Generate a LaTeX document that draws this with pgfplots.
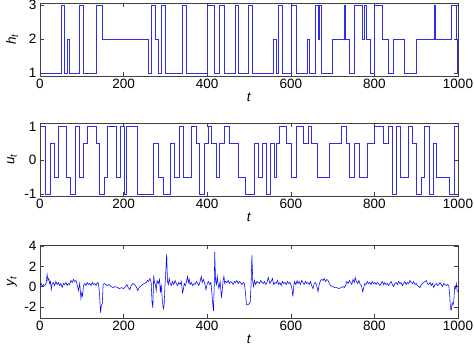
\documentclass[border=0pt]{standalone}
\usepackage{pgfplots}
\pgfplotsset{compat=1.18}
\usepackage{fontspec}
\setmainfont{Liberation Sans}
\definecolor{lineblue}{RGB}{45,45,235}
\pgfplotsset{
  panel/.style={
    scale only axis, width=418pt, height=73pt,
    xmin=0, xmax=1000, xtick={0,200,...,1000},
    tick align=inside, major tick length=4pt,
    axis line style={black!75, line width=0.5pt},
    every tick/.style={black!75, line width=0.5pt},
    ticklabel style={font=\fontsize{13.5}{15}\selectfont},
    /pgf/number format/assume math mode=true,
    /pgf/number format/1000 sep={},
    scaled ticks=false,
    xlabel={\textit{t}},
    every axis x label/.style={at={(axis description cs:0.5,-0.29)}, anchor=center, font=\fontsize{13.5}{15}\selectfont},
    every axis y label/.style={at={(axis description cs:-0.067,0.5)}, anchor=center, rotate=90, font=\fontsize{13.5}{15}\selectfont},
    clip=true,
  },
  every axis plot/.append style={lineblue, line width=0.55pt, no marks},
}
\begin{document}
\begin{tikzpicture}
\begin{axis}[panel, at={(0,275pt)}, anchor=south west,
  ymin=0.92, ymax=3.06, ytick={1,2,3}, ylabel={\textit{h}\textsubscript{\textit{t}}}]
\addplot[const plot] coordinates {
(0,1) (51,3) (59,1) (65,2) (70,1) (93,3) (103,1) (135,3) (149,2) (258,1) (266,3) (276,2) (282,1) (291,3) (300,1) (340,3) (350,1) (399,3) (416,1) (429,3) (442,1) (468,3) (475,1) (499,3) (509,1) (557,2) (565,1) (571,3) (579,1) (602,3) (614,1) (639,2) (644,1) (659,3) (665,2) (669,3) (673,1) (699,2) (728,3) (730,2) (741,1) (753,3) (770,2) (776,3) (781,2) (789,1) (800,3) (820,2) (832,1) (844,2) (872,1) (900,2) (944,3) (945,2) (984,3) (996,2) (999,1) (1000,1)
};
\end{axis}
\begin{axis}[panel, at={(0,155pt)}, anchor=south west,
  ymin=-1.06, ymax=1.1, ytick={-1,0,1}, ylabel={\textit{u}\textsubscript{\textit{t}}}]
\addplot[const plot] coordinates {
(0,1) (12,-1) (24,0.5) (33,-0.5) (44,1) (62,-0.5) (72,-1) (84,1) (94,-0.5) (104,0.5) (113,1) (134,0.5) (143,-1) (153,-0.5) (161,1) (183,-0.5) (191,1) (201,-1) (207,1) (232,-1) (272,0.5) (283,-0.5) (295,-1) (312,0.5) (322,-0.5) (332,1) (342,-0.5) (362,1) (373,0.5) (382,-1) (392,0.5) (402,1) (410,0.5) (421,-0.5) (430,0.5) (442,1) (452,0.5) (474,-0.5) (490,-1) (512,0.5) (522,-0.5) (532,0.5) (542,-1) (552,0.5) (560,-0.5) (566,0.5) (572,1) (589,0.5) (601,-0.5) (612,1) (629,0.5) (641,1) (649,0.5) (663,-0.5) (691,0.5) (721,1) (733,0.5) (741,-0.5) (753,0.5) (763,-0.5) (782,0.5) (800,1) (822,0.5) (832,1) (843,-1) (852,1) (863,-0.5) (880,1) (890,0.5) (900,-1) (912,-0.5) (920,1) (932,-1) (940,0.5) (949,-0.5) (980,-1) (992,1) (1000,1)
};
\end{axis}
\begin{axis}[panel, at={(0,33pt)}, anchor=south west,
  ymin=-3.1, ymax=4.1, ytick={-2,0,2,4}, ylabel={\textit{y}\textsubscript{\textit{t}}}]
\addplot coordinates {
(0,0.1) (3,0.3) (6,0.0) (9,0.2) (12,0.1) (15,0.4) (17,1.2) (19,0.6) (21,0.8) (23,0.3) (25,0.5) (27,-0.3) (29,0.2) (32,0.4) (35,0.1) (38,0.5) (41,0.2) (44,0.4) (47,0.1) (50,0.3) (53,-0.1) (56,0.3) (59,0.2) (62,0.4) (65,0.1) (68,0.3) (71,0.2) (74,0.6) (77,0.4) (80,0.7) (83,0.5) (86,0.6) (89,0.2) (92,-0.4) (95,0.3) (98,-1.2) (100,-0.6) (102,-0.9) (104,0.1) (107,0.3) (110,0.1) (113,0.4) (116,0.2) (119,0.3) (122,0.1) (125,0.4) (128,0.2) (131,0.3) (134,0.1) (137,0.4) (140,0.3) (142,-0.5) (145,-2.6) (147,-1.8) (149,-1.7) (151,0.2) (154,0.3) (157,0.2) (160,0.1) (165,0.2) (170,0.0) (175,-0.1) (180,0.0) (185,-0.1) (190,-0.2) (195,-0.1) (200,-0.2) (205,0.0) (208,0.2) (211,-0.1) (215,-0.3) (218,0.1) (222,0.3) (226,0.2) (230,0.0) (234,-0.4) (237,-0.1) (240,0.0) (245,0.2) (250,0.3) (254,0.4) (257,0.6) (260,0.5) (263,0.8) (266,0.4) (268,-1.5) (270,-2.1) (272,1.1) (274,0.4) (276,0.2) (278,-0.4) (280,0.6) (283,0.3) (286,0.7) (288,-0.6) (290,0.2) (293,-1.5) (295,-2.2) (297,-1.8) (299,0.1) (301,1.5) (303,3.2) (305,0.5) (307,0.2) (309,0.8) (311,0.4) (314,0.1) (317,0.5) (320,0.2) (323,0.6) (326,0.3) (329,0.1) (332,0.4) (335,0.2) (338,0.5) (341,-0.6) (343,-0.3) (345,0.3) (348,0.1) (351,0.6) (353,1.0) (355,0.4) (357,0.7) (359,0.2) (362,0.4) (365,0.1) (368,0.3) (371,0.2) (374,0.5) (377,0.3) (380,0.1) (383,0.5) (386,1.0) (388,0.4) (391,0.7) (394,0.3) (397,-0.3) (400,0.3) (403,0.5) (406,0.2) (409,0.4) (411,-0.5) (413,-1.6) (415,-2.4) (417,0.3) (418,3.4) (420,0.6) (422,0.2) (424,1.0) (426,0.3) (428,-0.2) (431,0.5) (434,-1.0) (436,-0.4) (438,0.6) (440,1.0) (442,0.3) (444,0.5) (447,0.4) (450,0.6) (453,0.3) (456,0.5) (459,0.4) (462,0.2) (465,0.5) (468,0.4) (471,0.6) (474,0.3) (477,0.5) (480,0.4) (483,0.2) (486,0.4) (489,0.3) (492,-0.8) (494,-1.8) (497,-1.8) (500,-1.7) (503,-1.5) (505,0.2) (507,3.1) (509,0.5) (511,0.0) (513,0.6) (516,0.2) (519,0.5) (522,0.4) (525,0.3) (528,0.6) (531,0.4) (534,0.3) (537,0.5) (540,0.2) (543,0.4) (546,0.9) (548,0.6) (550,0.3) (553,0.5) (556,0.8) (559,0.2) (562,0.4) (565,0.3) (568,0.6) (571,0.2) (574,0.4) (577,0.1) (580,0.5) (583,0.3) (586,0.4) (589,0.2) (592,0.5) (595,0.3) (598,0.4) (601,0.1) (603,-0.3) (605,-1.0) (607,0.0) (609,0.5) (612,0.2) (615,0.6) (617,0.3) (620,0.5) (623,0.2) (626,0.6) (629,0.4) (632,0.2) (635,0.5) (638,0.3) (641,0.4) (644,0.2) (647,0.5) (650,0.1) (653,-0.2) (656,0.3) (659,0.4) (662,0.1) (665,-0.5) (668,0.2) (671,0.6) (674,0.7) (677,0.6) (680,0.8) (683,0.5) (686,0.7) (689,0.6) (692,0.3) (695,0.1) (700,0.0) (705,-0.1) (710,-0.1) (715,-0.2) (720,-0.1) (725,0.0) (728,-0.1) (731,0.1) (734,0.5) (737,0.3) (740,0.6) (743,0.4) (746,0.2) (749,0.7) (752,0.4) (754,0.9) (757,0.5) (760,0.3) (763,0.6) (766,0.2) (769,0.1) (772,-0.5) (774,-0.2) (777,0.3) (780,0.2) (783,0.5) (786,0.3) (789,0.4) (792,0.2) (795,0.5) (798,0.3) (801,0.4) (804,0.2) (807,0.4) (810,0.3) (813,0.1) (816,0.3) (819,0.5) (822,0.2) (825,0.4) (828,0.2) (831,0.3) (834,0.1) (837,0.3) (840,0.5) (843,0.2) (846,0.0) (849,0.3) (852,0.4) (855,0.2) (858,0.5) (861,0.3) (864,0.4) (867,0.1) (870,0.3) (873,0.5) (876,0.2) (879,0.4) (882,0.3) (885,0.6) (888,0.4) (891,0.3) (894,0.5) (897,0.2) (900,0.3) (903,0.1) (906,0.0) (909,-0.1) (912,0.2) (915,0.3) (918,0.4) (921,0.5) (924,0.6) (927,0.3) (930,0.2) (933,0.4) (936,0.1) (939,0.3) (942,-0.1) (945,0.2) (948,0.3) (951,0.1) (954,0.2) (957,0.4) (960,0.2) (963,0.0) (966,0.3) (969,0.2) (972,0.1) (975,0.2) (978,0.1) (980,-0.8) (982,-2.2) (984,-2.3) (986,-1.6) (988,-1.8) (990,-1.4) (992,-0.1) (994,-0.2) (996,0.3) (998,-0.4) (1000,-0.5)
};
\end{axis}
\pgfresetboundingbox
\path[use as bounding box] (-40pt,0pt) rectangle (434pt,351pt);
\end{tikzpicture}
\end{document}
